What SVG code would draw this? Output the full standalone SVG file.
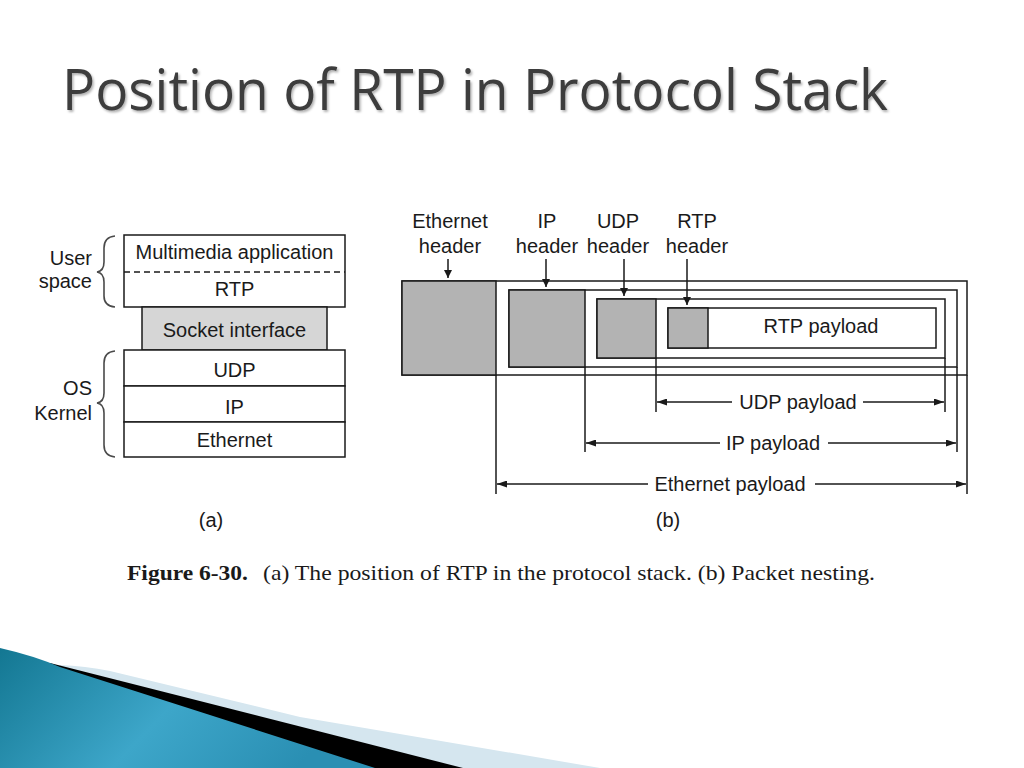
<svg xmlns="http://www.w3.org/2000/svg" width="1024" height="768" viewBox="0 0 1024 768">
<defs>
<style>
.t{font-family:"Liberation Sans",Arial,sans-serif;font-size:20px;fill:#1a1a1a;text-anchor:middle}
.tr{font-family:"Liberation Sans",Arial,sans-serif;font-size:20px;fill:#1a1a1a;text-anchor:end}
.box{fill:#fff;stroke:#1a1a1a;stroke-width:1.5}
.hdr{fill:#b3b3b3;stroke:#1a1a1a;stroke-width:1.5}
.ln{stroke:#1a1a1a;stroke-width:1.5;fill:none}
.brace{stroke:#4a4a4a;stroke-width:1.6;fill:none}
.cap{font-family:"Liberation Serif","Times New Roman",serif;font-size:22px;fill:#1a1a1a}
</style>
<marker id="ah" viewBox="0 0 10 7" refX="10" refY="3.5" markerWidth="10" markerHeight="7" markerUnits="userSpaceOnUse" orient="auto-start-reverse">
<path d="M0,0 L10,3.5 L0,7 z" fill="#1a1a1a"/>
</marker>
<marker id="dh" viewBox="0 0 8 9" refX="8" refY="4" markerWidth="8" markerHeight="9" markerUnits="userSpaceOnUse" orient="auto">
<path d="M0,0 L8,4 L0,8 z" fill="#1a1a1a"/>
</marker>
<linearGradient id="blue" x1="0" y1="0" x2="1" y2="0.3">
<stop offset="0" stop-color="#137792"/>
<stop offset="0.55" stop-color="#3da6c9"/>
<stop offset="1" stop-color="#2a8fb3"/>
</linearGradient>
<filter id="sh" x="-5%" y="-20%" width="110%" height="140%">
<feDropShadow dx="1.5" dy="2" stdDeviation="1.2" flood-color="#000" flood-opacity="0.3"/>
</filter>
</defs>
<rect width="1024" height="768" fill="#fff"/>

<g id="title">
<text x="62" y="110" font-family="'Open Sans','Noto Sans',sans-serif" font-size="56" fill="#3c3c3c" textLength="826" lengthAdjust="spacingAndGlyphs" filter="url(#sh)">Position of RTP in Protocol Stack</text>
</g>

<g id="decoration">
<path d="M60,665 Q85,666 110,671 L300,717 L600,768 L0,768 Z" fill="#d5e6ef"/>
<path d="M50,663 L463,768 L0,768 Z" fill="#000"/>
<path d="M0,648 Q35,656 60,667 L375,768 L0,768 Z" fill="url(#blue)"/>
</g>

<g id="stack">
<g id="user-space-label">
<text class="tr" x="92" y="265">User</text>
<text class="tr" x="92" y="288">space</text>
<path class="brace" d="M115,236 Q104,237 104,248 L104,262 Q104,271 97,272 Q104,273 104,282 L104,296 Q104,306 115,307"/>
</g>
<g id="os-kernel-label">
<text class="tr" x="92" y="395">OS</text>
<text class="tr" x="92" y="420">Kernel</text>
<path class="brace" d="M115,351 Q104,352 104,363 L104,393 Q104,402 97,403 Q104,404 104,413 L104,445 Q104,456 115,457"/>
</g>
<g id="app-rtp">
<rect class="box" x="124" y="235" width="221" height="72"/>
<line x1="124" y1="272" x2="345" y2="272" stroke="#1a1a1a" stroke-width="1.5" stroke-dasharray="6,4"/>
<text class="t" x="234.5" y="259">Multimedia application</text>
<text class="t" x="234.5" y="296">RTP</text>
</g>
<g id="socket">
<rect x="142" y="307" width="185" height="43" fill="#d6d6d6" stroke="#1a1a1a" stroke-width="1.5"/>
<text class="t" x="234.5" y="337">Socket interface</text>
</g>
<g id="udp">
<rect class="box" x="124" y="350" width="221" height="36"/>
<text class="t" x="234.5" y="377">UDP</text>
</g>
<g id="ip">
<rect class="box" x="124" y="386" width="221" height="36"/>
<text class="t" x="234.5" y="414">IP</text>
</g>
<g id="ethernet">
<rect class="box" x="124" y="422" width="221" height="35"/>
<text class="t" x="234.5" y="447">Ethernet</text>
</g>
<text class="t" x="211" y="527">(a)</text>
</g>

<g id="packet">
<g id="eth-frame">
<rect class="box" x="402" y="281" width="565" height="94"/>
<rect class="hdr" x="402" y="281" width="94" height="94"/>
</g>
<g id="ip-packet">
<rect class="box" x="509" y="290" width="448" height="77"/>
<rect class="hdr" x="509" y="290" width="76" height="77"/>
</g>
<g id="udp-packet">
<rect class="box" x="597" y="299" width="348" height="59"/>
<rect class="hdr" x="597" y="299" width="59" height="59"/>
</g>
<g id="rtp-packet">
<rect class="box" x="668" y="308" width="268" height="40"/>
<rect class="hdr" x="668" y="308" width="40" height="40"/>
<text class="t" x="821" y="333">RTP payload</text>
</g>
<g id="header-labels">
<text class="t" x="450" y="228">Ethernet</text>
<text class="t" x="450" y="253">header</text>
<text class="t" x="547" y="228">IP</text>
<text class="t" x="547" y="253">header</text>
<text class="t" x="618" y="228">UDP</text>
<text class="t" x="618" y="253">header</text>
<text class="t" x="697" y="228">RTP</text>
<text class="t" x="697" y="253">header</text>
</g>
<g id="payload-labels">
<text class="t" x="798" y="409">UDP payload</text>
<text class="t" x="773" y="450">IP payload</text>
<text class="t" x="730" y="491">Ethernet payload</text>
</g>
<text class="t" x="668" y="527">(b)</text>
</g>

<g id="connectors">
<line class="ln" x1="448" y1="259" x2="448" y2="278" marker-end="url(#dh)"/>
<line class="ln" x1="546" y1="259" x2="546" y2="287" marker-end="url(#dh)"/>
<line class="ln" x1="624" y1="259" x2="624" y2="296" marker-end="url(#dh)"/>
<line class="ln" x1="687" y1="259" x2="687" y2="305" marker-end="url(#dh)"/>
<line class="ln" x1="656" y1="358" x2="656" y2="412"/>
<line class="ln" x1="945" y1="358" x2="945" y2="412"/>
<line class="ln" x1="585" y1="367" x2="585" y2="452"/>
<line class="ln" x1="957" y1="367" x2="957" y2="452"/>
<line class="ln" x1="496" y1="375" x2="496" y2="494"/>
<line class="ln" x1="967" y1="375" x2="967" y2="494"/>
<line class="ln" x1="732" y1="402" x2="657" y2="402" marker-end="url(#ah)"/>
<line class="ln" x1="863" y1="402" x2="944" y2="402" marker-end="url(#ah)"/>
<line class="ln" x1="720" y1="443" x2="586" y2="443" marker-end="url(#ah)"/>
<line class="ln" x1="828" y1="443" x2="956" y2="443" marker-end="url(#ah)"/>
<line class="ln" x1="648" y1="484" x2="497" y2="484" marker-end="url(#ah)"/>
<line class="ln" x1="815" y1="484" x2="966" y2="484" marker-end="url(#ah)"/>
</g>

<g id="caption">
<text class="cap" x="127" y="580" font-weight="bold" textLength="121" lengthAdjust="spacingAndGlyphs">Figure 6-30.</text>
<text class="cap" x="263" y="580" textLength="612" lengthAdjust="spacingAndGlyphs">(a) The position of RTP in the protocol stack. (b) Packet nesting.</text>
</g>
</svg>
